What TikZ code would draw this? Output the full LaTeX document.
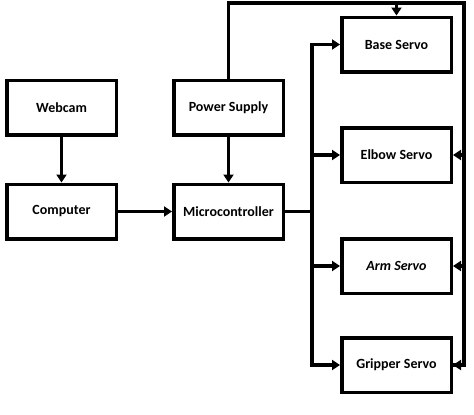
\documentclass[tikz,border=0pt]{standalone}
\usepackage{fontspec}
\setmainfont{Carlito}
\usetikzlibrary{arrows.meta}
\begin{document}
\begin{tikzpicture}[x=1pt,y=-1pt,
  blk/.style={draw,line width=3.5pt,minimum width=109.5pt,minimum height=54.5pt,inner sep=0pt,font=\fontsize{14}{16}\selectfont\bfseries},
  wire/.style={line width=3.5pt},
  arr/.style={line width=3.5pt,-{Triangle[length=8pt,width=10pt]}}]
\useasboundingbox (0,0) rectangle (474,415);
\node[blk] (web) at (61.5,107.5) {Webcam};
\node[blk] (pow) at (228.5,107.5) {Power Supply};
\node[blk] (comp) at (61.5,211.5) {Computer};
\node[blk] (mcu) at (228.5,211.5) {Microcontroller};
\node[blk] (base) at (396.5,44.5) {Base Servo};
\node[blk] (elb) at (396.5,155) {Elbow Servo};
\node[blk,font=\fontsize{14}{16}\selectfont\bfseries\itshape] (arm) at (396.5,266) {Arm Servo};
\node[blk] (grip) at (396.5,365) {Gripper Servo};
\coordinate (busL) at (312,211.5);
\coordinate (topL) at (228.5,3);
\coordinate (topR) at (464,3);
\draw[arr] (web) -- (comp);
\draw[arr] (pow) -- (mcu);
\draw[arr] (comp) -- (mcu);
\draw[wire] (mcu.east) -- (busL);
\draw[arr] (busL) |- (base.west);
\draw[arr] (busL) |- (elb.west);
\draw[arr] (busL) |- (arm.west);
\draw[arr] (busL) |- (grip.west);
\draw[wire,line join=miter] (pow.north) -- (topL) -- (topR) |- (grip.east);
\draw[arr] (base.north |- topR) -- (base.north);
\draw[arr] (topR) |- (elb.east);
\draw[arr] (topR) |- (arm.east);
\draw[arr] (topR) |- (grip.east);
\end{tikzpicture}
\end{document}
